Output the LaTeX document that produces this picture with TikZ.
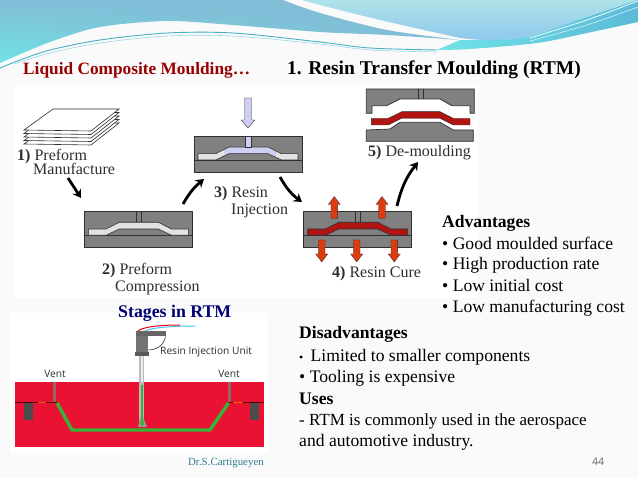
\documentclass[tikz,border=0pt]{standalone}
\usepackage{fontspec}
\setmainfont{Liberation Serif}
\newfontfamily\sansf{Open Sans}
\usetikzlibrary{arrows.meta,shadings}
\definecolor{mgrey}{HTML}{808080}
\definecolor{medge}{HTML}{303030}
\definecolor{cavgrey}{HTML}{E2E2E2}
\definecolor{resinred}{HTML}{B01512}
\definecolor{lav}{HTML}{CFCFF5}
\definecolor{hotred}{HTML}{DD3A10}
\definecolor{blockred}{HTML}{EA1233}
\definecolor{ink}{HTML}{2E2E2E}
\definecolor{gr}{HTML}{35B535}
\definecolor{bandA}{HTML}{6FE3E6}
\definecolor{bandB}{HTML}{82BCD6}
\definecolor{bandC}{HTML}{AEE3E8}
\definecolor{bandD}{HTML}{8FC8EE}
\definecolor{bandE}{HTML}{5CBAD8}
\definecolor{drteal}{HTML}{2F7F8F}
\tikzset{
  lab/.style={anchor=base west,inner sep=0pt,text=ink,font=\fontsize{16}{18}\selectfont},
  body/.style={anchor=base west,inner sep=0pt,text=black,font=\fontsize{17.6}{20}\selectfont},
  bodyb/.style={body,font=\bfseries\fontsize{17.6}{20}\selectfont},
  small/.style={inner sep=0pt,text=ink,font=\sansf\fontsize{10.2}{12}\selectfont},
  flow/.style={line width=2.8pt,-{Stealth[length=8pt,width=10pt]},black},
  mould/.pic={
    \fill[mgrey,draw=medge,line width=.7pt] (0,0) rectangle (108,36.4);
    \draw[medge,line width=.7pt] (0,24) -- (108,24);
    \draw[medge,line width=.6pt] (52,0) -- (52,11) (57,0) -- (57,11);
    \path[fill=#1,draw=medge,line width=.6pt] (4,17.7)--(21.7,17.7)--(35,11)--(74,11)--(87.3,17.7)--(104,17.7)--(104,24)--(87.3,24)--(74,17.7)--(35,17.7)--(21.7,24)--(4,24)--cycle;
  },
  blockup/.pic={
    \fill[#1,draw=medge,line width=.3pt] (-3.3,22)--(3.3,22)--(3.3,8)--(6,8)--(0,0)--(-6,8)--(-3.3,8)--cycle;
  },
  blockdown/.pic={
    \fill[#1,draw=medge,line width=.3pt] (-3.3,0)--(3.3,0)--(3.3,14)--(6,14)--(0,22)--(-6,14)--(-3.3,14)--cycle;
  },
  sheet/.pic={
    \fill[white,draw=ink,line width=.6pt] (0,21)--(29,0)--(95,0)--(67,22)--cycle;
  }
}
\begin{document}
\begin{tikzpicture}[x=1pt,y=-1pt]
\useasboundingbox (0,0) rectangle (638,478);
\fill[white!98!black] (0,0) rectangle (638,478);
% banner
\shade[lower left=bandA,upper left=bandB,upper right=bandB,lower right=bandB]
  (0,63) -- (0,0) -- (283,0) -- plot[smooth] coordinates {(283,0) (320,13) (387,30) (460,40)}
  -- plot[smooth] coordinates {(460,40) (387,35) (320,32) (233,25) (167,21) (100,27) (50,42) (0,63)} -- cycle;
\shade[top color=bandC,bottom color=bandD]
  (302,0) -- (638,0) -- plot[smooth] coordinates {(638,0) (587,17) (527,37) (487,40) (460,38)}
  -- plot[smooth] coordinates {(460,38) (380,20) (320,5) (302,0)} -- cycle;
\shade[left color=bandA,right color=bandE]
  (437,50) -- plot[smooth] coordinates {(460,40) (487,40) (527,37) (587,17) (638,0)} -- (638,22)
  -- plot[smooth] coordinates {(638,22) (587,33) (537,43) (470,49) (437,50)} -- cycle;
\draw[bandE!80!teal,line width=.9pt] plot[smooth] coordinates {(0,68) (20,60) (50,50) (100,40) (167,33) (233,33) (320,42) (370,48) (437,50)};
\draw[bandE!60!white,line width=.6pt] plot[smooth] coordinates {(14,64) (50,53) (100,43) (167,36) (233,36) (320,44) (370,50) (437,52)};
\draw[white,line width=.7pt] plot[smooth] coordinates {(530,38) (587,20) (638,1)};
\draw[white!70!bandC,line width=.5pt] plot[smooth] coordinates {(530,41) (587,25) (638,7)};
% titles
\node[anchor=base west,inner sep=0pt,text=red!60!black,font=\bfseries\fontsize{17.3}{20}\selectfont] (t1) at (23,75) {Liquid Composite Moulding…};
\node[anchor=base west,inner sep=0pt,font=\bfseries\fontsize{19.5}{22}\selectfont] (t2) at (287,75) {1. Resin Transfer Moulding (RTM)};
% figure background
\fill[white] (15,85) rectangle (478,298);
% sheets
\pic at (24,123) {sheet};
\pic at (24,119.5) {sheet};
\pic at (24,116) {sheet};
\pic at (24,112.5) {sheet};
\pic at (24,109) {sheet};
% moulds
\pic at (84.3,211.3) {mould=cavgrey};
\pic at (194,136) {mould=cavgrey};
\begin{scope}
  \clip (224,136) rectangle (275.5,172);
  \pic at (194,136) {mould=lav};
\end{scope}
\fill[lav,draw=medge,line width=.5pt] (245.7,136) rectangle (251,147.5);
\pic at (303.7,211.3) {mould=resinred};
% demould
\fill[mgrey,draw=medge,line width=.7pt] (366.3,89)--(474.3,89)--(474.3,113.3)--(470,113.3)--(470,105.7)--(451.7,105.7)--(440,99)--(400,99)--(386.7,105.7)--(372,105.7)--(372,113.3)--(366.3,113.3)--cycle;
\draw[medge,line width=.6pt] (418,89) -- (418,99) (423,89) -- (423,99);
\fill[mgrey,draw=medge,line width=.7pt] (366.3,141.3)--(366.3,130)--(390,129)--(400,122.3)--(440,122.3)--(453.3,130)--(473.3,130)--(473.3,141.3)--cycle;
\fill[resinred,draw=medge,line width=.4pt] (371.3,118.3)--(388.3,118.3)--(401.7,111.7)--(440,111.7)--(453.3,118.3)--(470,118.3)--(470,125)--(453.3,125)--(440,118.3)--(401.7,118.3)--(388.3,125)--(371.3,125)--cycle;
% block arrows
\fill[lav,draw=medge,line width=.4pt] (244.5,98)--(251.5,98)--(251.5,120)--(254.7,120)--(248,128)--(241.3,120)--(244.5,120)--cycle;
\pic at (334.3,196.5) {blockup=hotred};
\pic at (382,196.5) {blockup=hotred};
\pic at (321.7,240) {blockdown=hotred};
\pic at (356.7,240) {blockdown=hotred};
\pic at (394.3,240) {blockdown=hotred};
% flow arrows
\coordinate (a1) at (68,178); \coordinate (b1) at (81,198);
\coordinate (a2) at (183,204); \coordinate (b2) at (204,179);
\coordinate (a3) at (280,177); \coordinate (b3) at (302,202);
\coordinate (a4) at (397,206); \coordinate (b4) at (418,162);
\draw[flow] (a1) -- (b1);
\draw[flow] (a2) to[bend left=10] (b2);
\draw[flow] (a3) to[bend right=12] (b3);
\draw[flow] (a4) to[bend left=12] (b4);
% labels
\node[lab] (l1) at (17,161) {\textbf{1)} Preform};
\node[lab] (l1b) at (33,175) {Manufacture};
\node[lab] (l2) at (102,275) {\textbf{2)} Preform};
\node[lab] (l2b) at (115,292) {Compression};
\node[lab] (l3) at (214,198) {\textbf{3)} Resin};
\node[lab] (l3b) at (231,215) {Injection};
\node[lab] (l4) at (332,278) {\textbf{4)} Resin Cure};
\node[lab] (l5) at (368,157) {\textbf{5)} De-moulding};
% right text
\node[bodyb] (adv) at (442,228) {Advantages};
\node[body] (a1t) at (442,250) {• Good moulded surface};
\node[body] (a2t) at (442,270) {• High production rate};
\node[body] (a3t) at (442,292) {• Low initial cost};
\node[body] (a4t) at (442,313) {• Low manufacturing cost};
\node[bodyb] (dis) at (299,339) {Disadvantages};
\node[body] (d1) at (299,362) {{\fontsize{12}{14}\selectfont •} \,Limited to smaller components};
\node[body] (d2) at (299,383) {• Tooling is expensive};
\node[bodyb] (us) at (299,405) {Uses};
\node[body,font=\fontsize{17}{20}\selectfont] (u1) at (299,426) {- RTM is commonly used in the aerospace};
\node[body] (u2) at (299,447) {and automotive industry.};
% bottom figure
\fill[white] (10,313) rectangle (268,453);
\fill[blockred] (15,382.3) rectangle (264,446.7);
\draw[black!70!red,line width=.5pt] (15,402.7) -- (57,402.7) (228.5,402.7) -- (264,402.7);
\fill[black!70] (23.5,403) rectangle (32.5,420.5);
\fill[black!70] (250,403) rectangle (258.7,420.5);
\draw[orange!70!red,line width=.6pt] (38,402.3) -- (46,402.3);
\draw[orange!70!red,line width=.6pt] (233,402.3) -- (243,402.3);
\fill[gray!80!red] (52.7,382) rectangle (56,402);
\fill[gray!80!red] (227.5,382) rectangle (230.8,402);
\fill[gray!55] (139.3,355) rectangle (144,427);
\fill[white!85!gray] (140.8,355) rectangle (142.5,382);
\fill[gray!80] (138,427) -- (140.5,418) -- (143.5,418) -- (147,427) -- cycle;
\draw[gr,line width=3.4pt,line join=round] (57,403) -- (72,430) -- (210,430) -- (228.5,403);
\draw[gr,line width=1.4pt,-{Stealth[length=7pt,width=5pt]}] (142,385) -- (142,428);
% injection unit
\draw[red!70!purple,line width=1pt] (138,331) .. controls (142,327) and (160,325) .. (180,325);
\draw[blue!35!cyan!70!white,line width=1pt] (145,331) .. controls (150,328) and (170,326) .. (195,326);
\fill[gray!90!black] (136,331.5) rectangle (148,352);
\fill[black!60] (136,331.5) rectangle (165.5,336.5);
\draw[black!70,line width=.7pt] (165.5,336.5) .. controls (164,345) and (157,350) .. (148,350);
\fill[black!65] (134.5,352) rectangle (149,356.5);
\node[small,anchor=base west] (riu) at (160,355) {Resin Injection Unit};
\node[small,anchor=base] (v1) at (55,378) {Vent};
\node[small,anchor=base] (v2) at (229,378) {Vent};
\node[anchor=base west,inner sep=0pt,text=blue!45!black,font=\bfseries\fontsize{17.8}{20}\selectfont] (st) at (118,318) {Stages in RTM};
% footer
\node[anchor=base east,inner sep=0pt,text=drteal,font=\fontsize{10.9}{13}\selectfont] (dr) at (264,466) {Dr.S.Cartigueyen};
\node[anchor=base,inner sep=0pt,text=gray!80!black,font=\sansf\fontsize{10.5}{12}\selectfont] (pg) at (598,466) {44};
\end{tikzpicture}
\end{document}
